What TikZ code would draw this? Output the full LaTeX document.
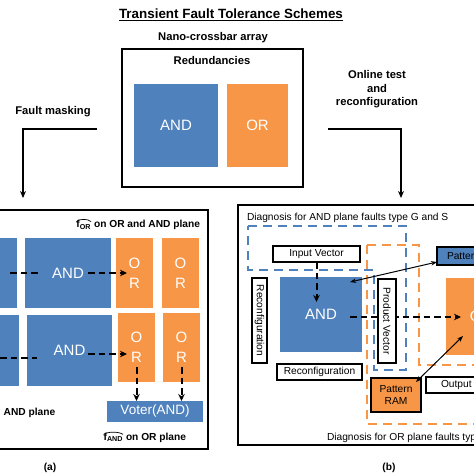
\documentclass[tikz,border=0pt]{standalone}
\usepackage{fontspec}
\setmainfont{Liberation Sans}
\usetikzlibrary{arrows.meta}
\definecolor{andblue}{HTML}{4F81BD}
\definecolor{ororange}{HTML}{F79646}
\begin{document}
\begin{tikzpicture}[x=1pt,y=-1pt,
  every node/.style={inner sep=0pt,outer sep=0pt},
  lbl/.style={font=\bfseries\fontsize{11.2}{13.5}\selectfont},
  sm/.style={font=\fontsize{10.2}{12}\selectfont},
  smb/.style={font=\bfseries\fontsize{10.2}{12}\selectfont},
  andbox/.style={fill=andblue,text=white,font=\fontsize{15}{20}\selectfont},
  orbox/.style={fill=ororange,text=white,font=\fontsize{15}{20}\selectfont,align=center},
  wbox/.style={draw=black,line width=2pt,fill=white,font=\fontsize{10.2}{12}\selectfont},
  bigarr/.style={line width=1.6pt,-{Stealth[length=7pt,width=6pt]}},
  darr/.style={line width=2pt,dash pattern=on 6.5pt off 4pt,-{Stealth[length=7pt,width=6.5pt]}},
  dline/.style={line width=2pt,dash pattern=on 6.5pt off 4pt},
  thinarr/.style={line width=1pt,{Stealth[length=6pt,width=4.5pt]}-{Stealth[length=6pt,width=4.5pt]}},
  bdash/.style={draw=andblue,line width=2pt,dash pattern=on 9pt off 6pt},
  odash/.style={draw=ororange,line width=2pt,dash pattern=on 9pt off 6pt},
  hatarc/.style={line width=0.7pt},
]
\useasboundingbox (0,0) rectangle (474,474);
\clip (0,0) rectangle (474,474);

% ---------- top ----------
\node[anchor=base,font=\bfseries\fontsize{13.4}{15}\selectfont] (title) at (231,18.3) {\underline{Transient Fault Tolerance Schemes}};
\node[anchor=base,lbl] (nano) at (213,40.7) {Nano-crossbar array};
\node[draw,line width=2.5pt,minimum width=181,minimum height=138] (array) at (212.5,118) {};
\node[anchor=base,lbl] (red) at (212,64) {Redundancies};
\node[andbox,minimum width=84,minimum height=83] (andT) at (176,125.5) {AND};
\node[orbox,minimum width=61,minimum height=83] (orT) at (257.5,125.5) {OR};
\node[anchor=base,lbl] (fm) at (53,114) {Fault masking};
\node[lbl,align=center] (ot) at (377,89.5) {Online test\\and\\reconfiguration};
\coordinate (fmS) at (97,129);
\coordinate (fmE) at (23,198);
\draw[bigarr] (fmS) -| (fmE);
\coordinate (otS) at (328,129);
\coordinate (otE) at (401,198);
\draw[bigarr] (otS) -| (otE);

% ---------- panel (a) ----------
\node[draw,line width=2pt,minimum width=228,minimum height=239] (panelA) at (94,329.5) {};
\node[anchor=base east,smb] (fOR) at (200,227.5) {on OR and AND plane};
\node[anchor=base east,smb] (fORs) at ([xshift=-3pt]fOR.base west) {f\textsubscript{OR}};
\draw[hatarc] ([yshift=-1.5pt]fORs.north west) .. controls +(3,-3) and +(-3,-3) .. ([yshift=-1.5pt]fORs.north east);
\node[andbox,minimum width=57,minimum height=70] (L1) at (-11.5,273) {};
\node[andbox,minimum width=86,minimum height=70] (A1) at (68,273) {AND};
\node[orbox,minimum width=37,minimum height=70] (O1a) at (134.5,273) {O\\R};
\node[orbox,minimum width=37,minimum height=70] (O1b) at (180.5,273) {O\\R};
\node[andbox,minimum width=59,minimum height=71] (L2) at (-10.5,350.5) {};
\node[andbox,minimum width=85,minimum height=71] (A2) at (69.5,350.5) {AND};
\node[orbox,minimum width=37,minimum height=69] (O2a) at (136.5,347.5) {O\\R};
\node[orbox,minimum width=37,minimum height=69] (O2b) at (181.5,347.5) {O\\R};
\coordinate (d1a) at (10,273); \coordinate (d1b) at (40,273);
\draw[dline] (d1a) -- (d1b);
\coordinate (d1c) at (88,273); \coordinate (d1d) at (127,273);
\draw[darr] (d1c) -- (d1d);
\coordinate (d2a) at (0,358); \coordinate (d2b) at (37,358);
\draw[dline] (d2a) -- (d2b);
\coordinate (d2c) at (88,354); \coordinate (d2d) at (127,354);
\draw[darr] (d2c) -- (d2d);
\node[andbox,font=\fontsize{13.5}{16}\selectfont,minimum width=96,minimum height=21] (voter) at (155,411.5) {Voter(AND)};
\coordinate (v1) at (136.5,367);
\coordinate (v2) at (181.5,367);
\draw[darr] (v1) -- (v1 |- voter.north);
\draw[darr] (v2) -- (v2 |- voter.north);
\node[anchor=base,smb] (andpl) at (29.5,415) {AND plane};
\node[anchor=base west,smb] (fAND) at (126,440.3) {on OR plane};
\node[anchor=base east,smb] (fANDs) at ([xshift=-3pt]fAND.base west) {f\textsubscript{AND}};
\draw[hatarc] ([yshift=-1.5pt]fANDs.north west) .. controls +(4,-3) and +(-4,-3) .. ([yshift=-1.5pt]fANDs.north east);
\node[anchor=base,smb] (capa) at (50,470) {(a)};

% ---------- panel (b) ----------
\node[draw,line width=2pt,minimum width=282,minimum height=240] (panelB) at (379,325) {};
\node[anchor=base west,sm] (dAND) at (247,220.7) {Diagnosis for AND plane faults type G and S};
\draw[bdash] (248,226) -- (406,226) -- (406,370) -- (374,370) -- (374,270) -- (248,270) -- cycle;
\draw[odash] (367,245) -- (419,245) -- (419,365) -- (530,365) -- (530,424) -- (367,424) -- cycle;
\node[wbox,minimum width=87,minimum height=16] (inv) at (316.5,254) {Input Vector};
\node[andbox,minimum width=82,minimum height=75] (andR) at (321,314.5) {AND};
\node[orbox,minimum width=70,minimum height=77] (orR) at (481,316.5) {OR};
\coordinate (andIn) at (316.5,302);
\draw[darr] (inv) -- (andIn);
\coordinate (andOut) at (350,317); \coordinate (orIn) at (461,317);
\draw[darr] (andOut) -- (orIn);
\node[wbox,rotate=-90,minimum width=85,minimum height=15] (rcv) at (259.5,320.5) {Reconfiguration};
\node[wbox,minimum width=85,minimum height=16] (rch) at (319.5,372) {Reconfiguration};
\node[wbox,rotate=-90,minimum width=84,minimum height=18] (pv) at (387,321) {Product Vector};
\node[wbox,fill=andblue,anchor=west,minimum height=18,inner xsep=10pt,text width=73pt,align=left] (pat) at (437,256) {Patter};
\node[wbox,fill=ororange,minimum width=50,minimum height=34,align=center,font=\fontsize{10.2}{12.6}\selectfont] (pram) at (396,395) {Pattern\\RAM};
\node[wbox,anchor=west,minimum height=16,inner xsep=15pt,text width=64pt,align=left] (outp) at (426,385) {Output};
\coordinate (patA) at (437,262); \coordinate (andA) at (350,282);
\draw[thinarr] (patA) -- (andA);
\coordinate (pramA) at (416,382); \coordinate (orA) at (463,336);
\draw[thinarr] (pramA) -- (orA);
\node[anchor=base west,sm] (dOR) at (327,440) {Diagnosis for OR plane faults typ};
\node[anchor=base,smb] (capb) at (389,470) {(b)};
\end{tikzpicture}
\end{document}
